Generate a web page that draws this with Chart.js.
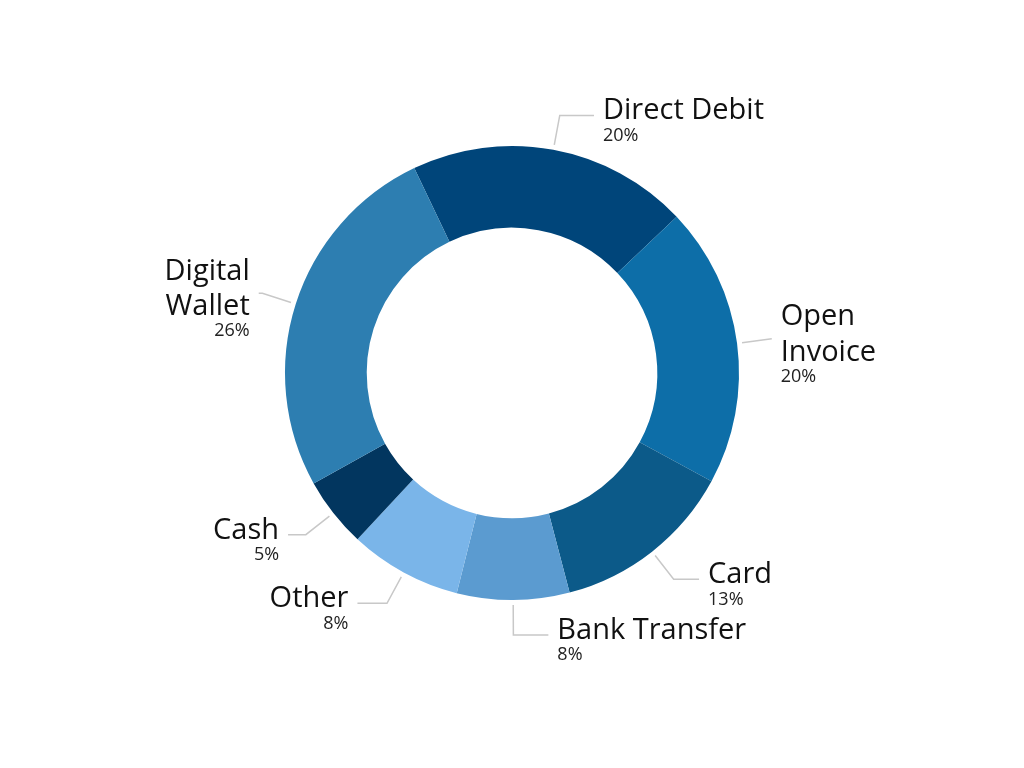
<!DOCTYPE html>
<html lang="en">
<head>
    <meta charset="UTF-8">
    <title>Payment Methods</title>
    <script src="https://cdn.jsdelivr.net/npm/chart.js"></script>
    <style>
        html, body {
            margin: 0;
            padding: 0;
            background: #fff;
        }

        .chart-wrap {
            width: 1024px;
            height: 768px;
        }
    </style>
</head>
<body>
    <div class="chart-wrap">
        <canvas id="paymentChart" width="1024" height="768"></canvas>
    </div>

    <script>
        // Data
        const methods = ['Direct Debit', 'Open Invoice', 'Card', 'Bank Transfer', 'Other', 'Cash', 'Digital Wallet'];
        const labelLines = [['Direct Debit'], ['Open', 'Invoice'], ['Card'], ['Bank Transfer'], ['Other'], ['Cash'], ['Digital', 'Wallet']];
        const shares = [20, 20, 13, 8, 8, 5, 26];
        const sliceColors = ['#00457a', '#0d6ea8', '#0c5a89', '#5b9bd0', '#7ab5e9', '#02365f', '#2d7eb1'];

        const FONT = "'Open Sans', 'DejaVu Sans', sans-serif";

        // Outside labels with elbow leader lines
        const calloutPlugin = {
            id: 'callouts',
            afterDatasetsDraw(chart) {
                const ctx = chart.ctx;
                const meta = chart.getDatasetMeta(0);
                ctx.save();
                meta.data.forEach((arc, i) => {
                    const p = arc.getProps(['x', 'y', 'startAngle', 'endAngle', 'outerRadius'], true);
                    const mid = (p.startAngle + p.endAngle) / 2;
                    const cos = Math.cos(mid), sin = Math.sin(mid);
                    const right = cos >= 0;
                    const x0 = p.x + cos * (p.outerRadius + 5);
                    const y0 = p.y + sin * (p.outerRadius + 5);
                    const x1 = p.x + cos * (p.outerRadius + 35);
                    const y1 = p.y + sin * (p.outerRadius + 35);
                    const tail = Math.max(0, 45 * Math.abs(sin) - 10);
                    const x2 = x1 + (right ? tail : -tail);

                    ctx.strokeStyle = '#c8c8c8';
                    ctx.lineWidth = 1.5;
                    ctx.beginPath();
                    ctx.moveTo(x0, y0);
                    ctx.lineTo(x1, y1);
                    ctx.lineTo(x2, y1);
                    ctx.stroke();

                    const lines = labelLines[i];
                    const tx = x2 + (right ? 9 : -9);
                    const span = (lines.length - 1) * 35.5 + 25.5;
                    let ty = y1 + 6.5 - span / 2;
                    ctx.textAlign = right ? 'left' : 'right';
                    ctx.textBaseline = 'middle';
                    ctx.fillStyle = '#111';
                    ctx.font = '29px ' + FONT;
                    lines.forEach((ln, k) => {
                        ctx.fillText(ln, tx, ty + 2 + k * 35.5);
                    });
                    ctx.fillStyle = '#222';
                    ctx.font = '18px ' + FONT;
                    ctx.fillText(shares[i] + '%', tx, ty + 1 + (lines.length - 1) * 35.5 + 25.5);
                });
                ctx.restore();
            }
        };

        const ctx = document.getElementById('paymentChart').getContext('2d');
        new Chart(ctx, {
            type: 'doughnut',
            data: {
                labels: methods,
                datasets: [{
                    data: shares,
                    backgroundColor: sliceColors,
                    borderWidth: 0
                }]
            },
            options: {
                responsive: false,
                animation: false,
                rotation: -25.5,
                cutout: '64%',
                layout: {
                    padding: { top: 146, bottom: 168, left: 100, right: 100 }
                },
                plugins: {
                    legend: { display: false },
                    tooltip: { enabled: false }
                }
            },
            plugins: [calloutPlugin]
        });
    </script>
</body>
</html>
